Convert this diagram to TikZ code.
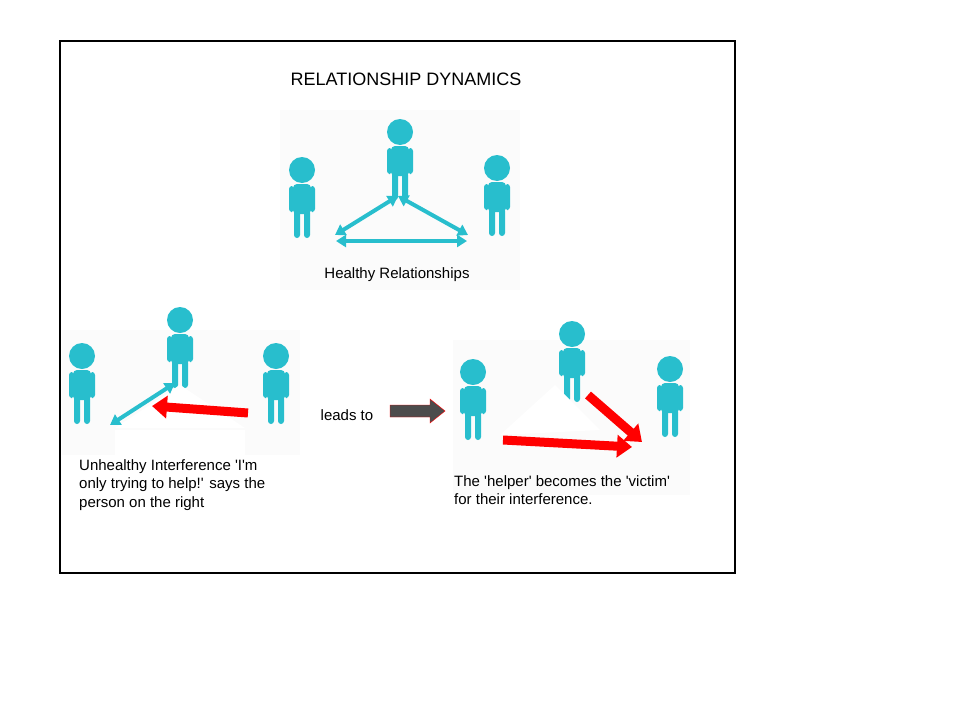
\documentclass[tikz,border=0pt]{standalone}
\usepackage{fontspec}
\setmainfont{Liberation Sans}
\usetikzlibrary{arrows.meta}
\definecolor{cy}{RGB}{40,190,205}
\newcommand\sq{\textquotesingle}
\tikzset{
 x=1pt,y=-1pt,
 txt/.style={font=\fontsize{15}{18.5}\selectfont,align=left,inner sep=0},
 cyarrow/.style={cy,line width=4pt,{Triangle[length=10pt,width=12pt]}-{Triangle[length=10pt,width=12pt]}},
 redarrow/.style={red,line width=9pt,-{Triangle[length=15pt,width=22pt]}},
 person/.pic={
   \fill[cy] (0,0) circle (13);
   \fill[cy,rounded corners=4] (-9,14) rectangle (9,44);
   \fill[cy,rounded corners=3] (-8,40) rectangle (-2,68);
   \fill[cy,rounded corners=3] (2,40) rectangle (8,68);
   \fill[cy,rounded corners=3] (-13,16) rectangle (-8,42);
   \fill[cy,rounded corners=3] (8,16) rectangle (13,42);
 }
}
\begin{document}
\begin{tikzpicture}
\useasboundingbox (0,0) rectangle (960,720);
\fill[white] (0,0) rectangle (960,720);
\draw[line width=1.5pt] (60,41) rectangle (735,573);
\node[txt,font=\fontsize{18}{20}\selectfont] (title) at (406,79) {RELATIONSHIP DYNAMICS};
% top
\fill[gray!3] (280,110) rectangle (520,290);
\pic at (302,170) {person};
\pic at (400,132) {person};
\pic at (497,168) {person};
\coordinate (tl) at (335,235); \coordinate (tm) at (398,196); \coordinate (tr) at (468,235);
\coordinate (bl) at (336,241); \coordinate (br) at (467,241);
\draw[cyarrow] (tl) -- (tm);
\draw[cyarrow] (tm) -- (tr);
\draw[cyarrow] (bl) -- (br);
\node[txt] (healthy) at (397,275) {Healthy Relationships};
% bottom left
\fill[gray!3] (62,330) rectangle (300,455);
\pic at (82,356) {person};
\pic at (180,320) {person};
\pic at (276,356) {person};
\fill[white] (115,428) -- (180,385) -- (245,428) -- cycle;
\coordinate (ul1) at (110,425); \coordinate (ul2) at (175,383);
\draw[cyarrow] (ul1) -- (ul2);
\coordinate (ur1) at (248,413); \coordinate (ur2) at (152,406);
\draw[redarrow] (ur1) -- (ur2);
\fill[white] (115,430) rectangle (245,455);
\node[txt,anchor=north west] (unh) at (79,459) {Unhealthy Interference \sq I\sq m\\only trying to help!\sq{} says the\\person on the right};
% leads to
\node[txt] (leads) at (347,415) {leads to};
\draw[red,fill=black!70] (390,405) -- (430,405) -- (430,399) -- (445,411) -- (430,423) -- (430,417) -- (390,417) -- cycle;
% bottom right
\fill[gray!3] (453,340) rectangle (690,495);
\pic at (473,372) {person};
\pic at (572,334) {person};
\pic at (670,369) {person};
\fill[white] (500,435) -- (555,385) -- (600,430) -- cycle;
\coordinate (r1) at (588,395); \coordinate (r2) at (642,442);
\draw[redarrow] (r1) -- (r2);
\coordinate (r3) at (503,440); \coordinate (r4) at (632,447);
\draw[redarrow] (r3) -- (r4);
\node[txt,anchor=north west] (help) at (454,475) {The \sq helper\sq{} becomes the \sq victim\sq\\for their interference.};
\end{tikzpicture}
\end{document}
